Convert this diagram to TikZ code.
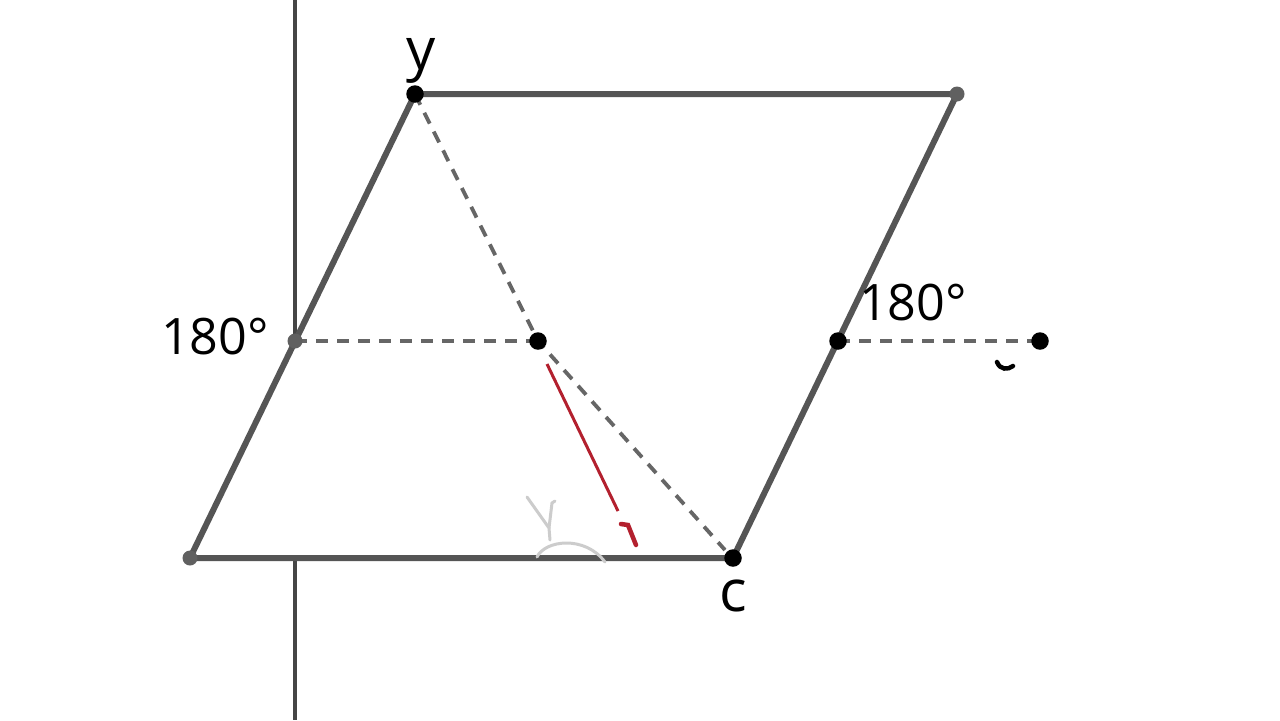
\documentclass[tikz,border=0pt]{standalone}
\usepackage{fontspec}
\setmainfont{Open Sans}
\definecolor{edgegray}{HTML}{555555}
\definecolor{axisgray}{HTML}{454545}
\definecolor{dashgray}{HTML}{666666}
\definecolor{dotgray}{HTML}{606060}
\definecolor{redline}{HTML}{B3202E}
\definecolor{sketchgray}{HTML}{CCCCCC}
\tikzset{
  edge/.style={draw=edgegray, line width=0.6mm, line cap=round},
  axis/.style={draw=axisgray, line width=0.35mm},
  dashline/.style={draw=dashgray, line width=0.38mm, dash pattern=on 1.2mm off 0.9mm},
  blackdot/.style={circle, fill=black, inner sep=0pt, minimum size=1.75mm},
  graydot/.style={circle, fill=dotgray, inner sep=0pt, minimum size=1.5mm},
  lbl/.style={font=\fontsize{14.3pt}{16pt}\selectfont, inner sep=0pt, anchor=base},
  letter/.style={font=\fontsize{16.5pt}{18pt}\selectfont, inner sep=0pt, anchor=base},
}
\begin{document}
\begin{tikzpicture}[x=0.1mm, y=-0.1mm]
\useasboundingbox (0,0) rectangle (1280,720);
\fill[white] (0,0) rectangle (1280,720);
% coordinates
\coordinate (A) at (190,558);
\coordinate (Y) at (415,94);
\coordinate (B) at (957,94);
\coordinate (C) at (733,558);
\coordinate (L) at (295,341);
\coordinate (M) at (538,341);
\coordinate (R) at (838,341);
\coordinate (E) at (1040,341);
\coordinate (Ctop) at (295,0);
\coordinate (Cbot) at (295,720);
\coordinate (Cmid) at (295,558);
\coordinate (Dend) at (725,550);
% vertical axis
\draw[axis] (Ctop) -- (L);
\draw[axis] (Cmid) -- (Cbot);
% dashed lines
\draw[dashline] (L) -- (M);
\draw[dashline] (Y) -- (M) -- (Dend);
\draw[dashline] (R) -- (E);
% parallelogram
\draw[edge] (A) -- (Y) -- (B) -- (C) -- cycle;
% red strokes
\coordinate (r1) at (547,364);
\coordinate (r2) at (618,511);
\draw[redline, line width=0.3mm] (r1) -- (r2);
\coordinate (r3) at (621,524);
\coordinate (r4) at (636,545);
\draw[redline, line width=0.45mm, line cap=round] (r3) -- (628,525) -- (r4);
% faint sketch
\draw[sketchgray, line width=0.3mm, line cap=round]
  (537,557) .. controls (545,540) and (585,535) .. (605,562);
\draw[sketchgray, line width=0.3mm, line cap=round]
  (550,540) -- (549,528) -- (527,497);
\draw[sketchgray, line width=0.3mm, line cap=round]
  (549,528) -- (552,503) -- (555,501);
% small mark
\draw[black, line width=0.45mm, line cap=round]
  (997,362) .. controls (1000,370) and (1008,370) .. (1013,366);
% dots
\node[graydot] (dA) at (A) {};
\node[graydot] (dB) at (B) {};
\node[graydot] (dL) at (L) {};
\node[blackdot] (dY) at (Y) {};
\node[blackdot] (dC) at (C) {};
\node[blackdot] (dM) at (M) {};
\node[blackdot] (dR) at (R) {};
\node[blackdot] (dE) at (E) {};
% labels
\node[lbl] (t1) at (215,354) {180°};
\node[lbl] (t2) at (913,320) {180°};
\node[letter] (ty) at (421,69) {y};
\node[letter] (tc) at (733,611) {c};
\end{tikzpicture}
\end{document}
